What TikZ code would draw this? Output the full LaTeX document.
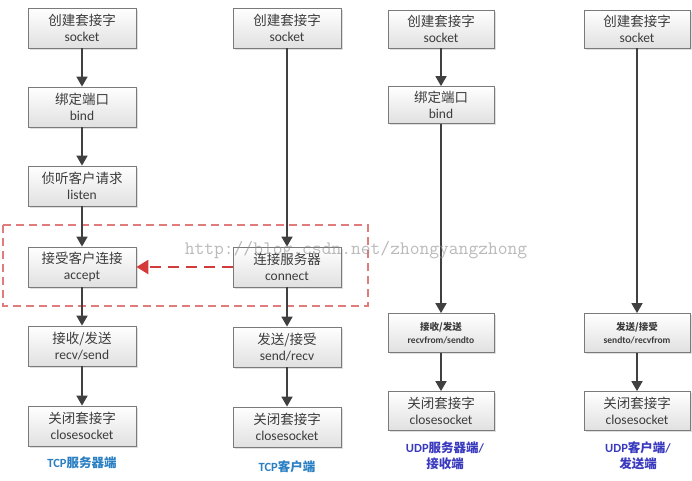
\documentclass[tikz,border=0pt]{standalone}
\usepackage{fontspec}
\setmainfont{Carlito}
\newfontfamily\cjk{Noto Sans CJK SC}
\usetikzlibrary{arrows.meta,shadows}

\definecolor{boxline}{HTML}{7A7A7A}
\definecolor{boxtext}{HTML}{3C3C3C}
\definecolor{flowline}{HTML}{404040}
\definecolor{linkred}{HTML}{D43A3A}
\definecolor{framered}{HTML}{E07C7C}
\definecolor{tcpblue}{HTML}{2B7FC3}
\definecolor{udpblue}{HTML}{3A3ABF}

\tikzset{
  x=1pt, y=-1pt,
  sockbox/.style={draw=boxline, line width=0.8pt, top color=white, bottom color=black!12,
    drop shadow={shadow xshift=1.5pt, shadow yshift=-1.5pt, opacity=0.25},
    minimum width=108pt, minimum height=40pt, inner sep=0pt, align=center,
    text=boxtext, font=\fontsize{13.5}{16}\selectfont},
  udpbox/.style={sockbox, minimum width=106pt, minimum height=38pt},
  smallbox/.style={udpbox, minimum height=39pt, font=\fontsize{9.5}{12.5}\selectfont\bfseries},
  flow/.style={draw=flowline, line width=1.7pt, -{Triangle[width=11pt,length=10pt]}},
  caption/.style={font=\fontsize{12.5}{16}\selectfont\bfseries, align=center}
}

\begin{document}
\begin{tikzpicture}
  \useasboundingbox (0,0) rectangle (692,480);
  \fill[white] (0,0) rectangle (692,480);

  % connection phase
  \draw[framered, line width=1.3pt, dash pattern=on 8pt off 5pt] (3,225) rectangle (368,306);

  % TCP server
  \node[sockbox] (ssock) at (82,28) {{\cjk 创建套接字}\\socket};
  \node[sockbox] (sbind) at (82,107) {{\cjk 绑定端口}\\bind};
  \node[sockbox] (slisten) at (82,186) {{\cjk 侦听客户请求}\\listen};
  \node[sockbox] (saccept) at (82,267) {{\cjk 接受客户连接}\\accept};
  \node[sockbox] (srecv) at (82,346) {{\cjk 接收/发送}\\recv/send};
  \node[sockbox] (sclose) at (82,426) {{\cjk 关闭套接字}\\closesocket};
  \node[caption, text=tcpblue] (tcps) at (82,463) {TCP{\cjk 服务器端}};

  % TCP client
  \node[sockbox] (csock) at (287,28) {{\cjk 创建套接字}\\socket};
  \node[sockbox] (cconnect) at (287,267) {{\cjk 连接服务器}\\connect};
  \node[sockbox] (csend) at (287,347) {{\cjk 发送/接受}\\send/recv};
  \node[sockbox] (cclose) at (287,427) {{\cjk 关闭套接字}\\closesocket};
  \node[caption, text=tcpblue] (tcpc) at (287,467) {TCP{\cjk 客户端}};

  % UDP server
  \node[udpbox] (usock) at (441,29) {{\cjk 创建套接字}\\socket};
  \node[udpbox, minimum height=37pt] (ubind) at (441,105) {{\cjk 绑定端口}\\bind};
  \node[smallbox] (urecv) at (441,333) {{\cjk 接收/发送}\\recvfrom/sendto};
  \node[udpbox, minimum height=39pt] (uclose) at (441,411) {{\cjk 关闭套接字}\\closesocket};
  \node[caption, text=udpblue] (udps) at (445,456) {UDP{\cjk 服务器端}/\\{\cjk 接收端}};

  % UDP client
  \node[udpbox] (vsock) at (637,29) {{\cjk 创建套接字}\\socket};
  \node[smallbox] (vsend) at (637,333) {{\cjk 发送/接受}\\sendto/recvfrom};
  \node[udpbox, minimum height=39pt] (vclose) at (637,411) {{\cjk 关闭套接字}\\closesocket};
  \node[caption, text=udpblue] (udpc) at (638,456) {UDP{\cjk 客户端}/\\{\cjk 发送端}};

  \draw[flow] (ssock) -- (sbind);
  \draw[flow] (sbind) -- (slisten);
  \draw[flow] (slisten) -- (saccept);
  \draw[flow] (saccept) -- (srecv);
  \draw[flow] (srecv) -- (sclose);

  \draw[flow] (csock) -- (cconnect);
  \draw[flow] (cconnect) -- (csend);
  \draw[flow] (csend) -- (cclose);

  \draw[flow] (usock) -- (ubind);
  \draw[flow] (ubind) -- (urecv);
  \draw[flow] (urecv) -- (uclose);

  \draw[flow] (vsock) -- (vsend);
  \draw[flow] (vsend) -- (vclose);

  \draw[linkred, line width=2.4pt, dash pattern=on 11pt off 7pt,
    -{Triangle[width=14pt,length=12pt]}] (cconnect) -- (saccept);

  % watermark
  \node[text=black!45, opacity=0.6, font=\ttfamily\fontsize{19}{20}\selectfont] (mark)
    at (356,250) {http://blog.csdn.net/zhongyangzhong};
\end{tikzpicture}
\end{document}
